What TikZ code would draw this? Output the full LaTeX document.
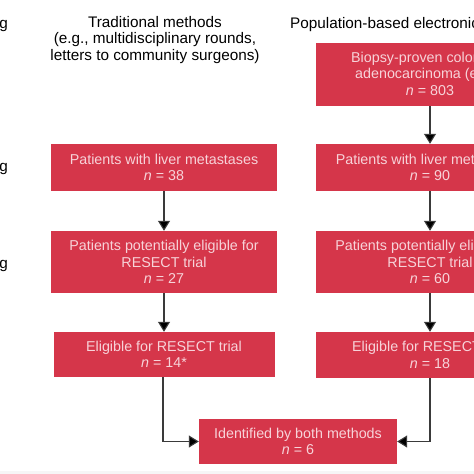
\documentclass[tikz,border=0pt]{standalone}
\usepackage{fontspec}
\setmainfont{Liberation Sans}
\usetikzlibrary{positioning,arrows.meta}

\definecolor{boxred}{HTML}{D5364A}
\definecolor{boxtext}{HTML}{F7D3D9}
\definecolor{linegray}{HTML}{3A3A3A}

\tikzset{
  stepbox/.style={fill=boxred, draw=none, inner sep=0pt, align=center,
    text=boxtext, minimum width=226pt, minimum height=47pt,
    font=\fontsize{14.3}{16.5}\selectfont},
  boxline/.style={inner sep=0pt, text=boxtext, font=\fontsize{14.3}{16.5}\selectfont},
  flow/.style={draw=linegray, line width=1.1pt,
    -{Triangle[length=10pt, width=12pt, fill=black]}},
  heading/.style={align=center, inner sep=0pt, font=\fontsize{15.3}{16.2}\selectfont},
}

\begin{document}
\begin{tikzpicture}[x=1pt, y=-1pt]

  \def\colL{164}
  \def\colR{430}

  \useasboundingbox (0,0) rectangle (474,474);
  \clip (0,0) rectangle (474,474);
  \fill[white] (0,0) rectangle (474,474);
  \fill[gray!7] (0,471) rectangle (474,474);

  % row labels (cut at the left edge)
  \node[anchor=base east, inner sep=0pt, font=\fontsize{15.3}{16}\selectfont] (lab1) at (8,28.5) {g};
  \node[anchor=base east, inner sep=0pt, font=\fontsize{15.3}{16}\selectfont] (lab2) at (8,171.5) {g};
  \node[anchor=base east, inner sep=0pt, font=\fontsize{15.3}{16}\selectfont] (lab3) at (8,268.5) {g};

  % column headings
  \node[heading, anchor=base] (headL) at (155,60) {Traditional methods\\
    (e.g., multidisciplinary rounds,\\letters to community surgeons)};
  \node[heading, anchor=base west] (headR) at (290,28) {Population-based electronic};

  % traditional column
  \node[stepbox] (trLiver) at (\colL,167.5) {Patients with liver metastases\\\textit{n} = 38};
  \node[stepbox, minimum height=62pt] (trPot) at (\colL,262) {Patients potentially eligible for\\RESECT trial\\\textit{n} = 27};
  \node[stepbox, minimum width=221pt, minimum height=45pt] (trElig) at (\colL,354.5) {Eligible for RESECT trial\\\textit{n} = 14*};

  % electronic column
  \node[stepbox, minimum width=228pt, minimum height=63pt] (elBiopsy) at (\colR,74.5) {};
  \node[boxline, anchor=base west] (elB1) at (351,62) {Biopsy-proven colon};
  \node[boxline, anchor=base west] (elB2) at (355,78) {adenocarcinoma (e};
  \node[boxline, anchor=base] (elB3) at (430,95) {\textit{n} = 803};
  \node[stepbox, minimum width=228pt] (elLiver) at (\colR,167.5) {Patients with liver metastases\\\textit{n} = 90};
  \node[stepbox, minimum width=228pt, minimum height=62pt] (elPot) at (\colR,262) {Patients potentially eligible for\\RESECT trial\\\textit{n} = 60};
  \node[stepbox, minimum width=228pt, minimum height=46pt] (elElig) at (\colR,355) {Eligible for RESECT trial\\\textit{n} = 18};

  % overlap
  \node[stepbox, minimum width=198pt, minimum height=45pt] (both) at (298,441.5) {Identified by both methods\\\textit{n} = 6};

  % arrows
  \draw[flow] (trLiver) -- (trPot);
  \draw[flow] (trPot) -- (trElig);
  \draw[flow] (elBiopsy) -- (elLiver);
  \draw[flow] (elLiver) -- (elPot);
  \draw[flow] (elPot) -- (elElig);
  \draw[flow] (trElig.south -| \colL-1,0) |- (both.west);
  \draw[flow] (elElig.south) |- (both.east);

\end{tikzpicture}
\end{document}
